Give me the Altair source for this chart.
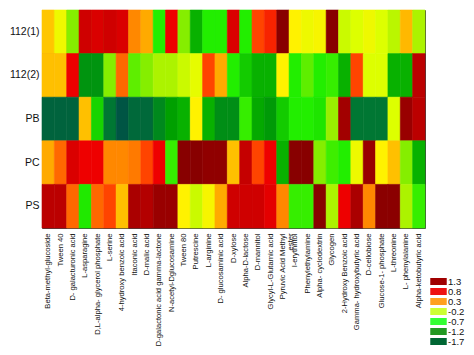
import altair as alt
import pandas as pd

rows = ["112(1)", "112(2)", "PB", "PC", "PS"]

substrates = [
    "Beta-methyl-glucoside", "Tween 40", "D- galacturonic acid", "L-asparagine",
    "D,L-alpha- glycerol phosphate", "L-serine", "4-hydroxy benzoic acid", "Itaconic acid",
    "D-malic acid", "D-galactonic acid gamma-lactone", "N-acetyl-Dglucosamine", "Tween 80",
    "Putrescine", "L-arginine", "D- glucosaminic acid", "D-xylose", "Alpha-D-lactose",
    "D-mannitol", "Glycyl-L-Glutamic acid", "Pyruvic Acid Methyl|ester", "I-erythritol",
    "Phenylethylamine", "Alpha- cyclodextrin", "Glycogen", "2-Hydroxy Benzoic acid",
    "Gamma- hydroxybutyric acid", "D-cellobiose", "Glucose-1- phosphate", "L-threonine",
    "L- phenylalanine", "Alpha-ketobutyric acid",
]

r_112_1 = [0.22, -0.1, -0.5, 1.0, 0.95, 1.0, 0.95, 0.45, 0.33, -0.75, 0.85, -0.5, -1.1, -0.75, -0.75, 0.95,
           -0.75, 0.6, 0.72, 1.4, 0.0, -0.1, -0.05, 1.4, -0.27, -0.2, -0.1, -0.2, -0.33, 0.28, -0.38]
r_112_2 = [0.25, 0.25, 0.85, -1.3, -1.3, -0.5, 0.52, -0.6, -0.5, -0.38, -0.38, -0.27, -0.15, 0.6, 0.33, -0.75,
           -0.95, -1.1, -1.1, 0.0, -0.75, -0.6, -0.75, -0.7, -1.1, 0.6, -0.2, -0.2, -1.1, -1.1, 1.1]
r_pb = [-1.7, -1.7, -1.7, 0.25, -0.9, -1.55, -1.8, -1.65, -1.65, -1.4, -1.2, -1.1, 0.0, -1.1, -1.35, -1.35,
        -0.7, -1.15, -1.25, -0.95, -0.75, -0.75, -0.8, -0.45, 1.25, -1.55, -1.55, -1.55, -0.2, 1.3, 1.1]
r_pc = [0.33, 0.52, 0.95, 0.85, 0.85, 0.45, 0.45, 0.48, 0.6, 0.85, -0.7, 1.4, 1.4, 1.35, 1.35, 0.25,
        1.05, 0.6, 0.85, -1.1, 1.4, 1.4, -0.5, -0.68, -0.75, -0.1, 1.3, 0.0, 0.25, -0.5, -1.1]
r_ps = [1.1, 1.1, 0.52, -0.78, 0.52, 0.6, 0.25, 1.2, 1.15, 1.3, 1.3, 0.0, -0.27, -0.05, 0.33, 1.0,
        1.0, 1.0, 0.9, 0.45, -0.7, -0.7, 1.4, -0.38, 0.85, 1.2, 0.45, 1.38, 1.38, -0.38, -0.7]

legend_labels = ["1.3", "0.8", "0.3", "-0.2", "-0.7", "-1.2", "-1.7"]
legend_colors = ["#A00000", "#EE1111", "#FFA020", "#CCFF33", "#33FF33", "#229922", "#006633"]

heat_domain = [-1.8, -1.55, -1.2, -0.75, -0.45, -0.2, 0.0, 0.25, 0.45, 0.6, 0.85, 1.1, 1.4]
heat_range = ["#005544", "#007733", "#00A000", "#22EE00", "#99EE00", "#DDFF00", "#FFF200",
              "#FFC000", "#FF8800", "#FF4400", "#EE0000", "#BB0000", "#880000"]

series = [r_112_1, r_112_2, r_pb, r_pc, r_ps]
records = []
for rname, vals in zip(rows, series):
    for s, v in zip(substrates, vals):
        records.append({"row": rname, "substrate": s, "value": v})
df = pd.DataFrame(records)

leg_df = pd.DataFrame({"row": [rows[0]] * 7, "substrate": substrates[:7], "key": legend_labels})

x_enc = alt.X("substrate:N", sort=substrates,
              axis=alt.Axis(title=None, labelAngle=-90, labelFontSize=7.6, labelAlign="right",
                            labelBaseline="middle", tickSize=0, domain=False, labelPadding=5,
                            labelExpr="split(datum.label, '|')", labelLineHeight=8))
y_enc = alt.Y("row:N", sort=rows,
              axis=alt.Axis(title=None, labelFontSize=10.5, tickSize=0, domain=False, labelPadding=3))

heat_scale = alt.Scale(domain=heat_domain, range=heat_range, interpolate="rgb", nice=False)

leg = alt.Chart(leg_df).mark_rect().encode(
    x=x_enc, y=y_enc,
    color=alt.Color("key:N", sort=legend_labels,
                    scale=alt.Scale(domain=legend_labels, range=legend_colors),
                    legend=alt.Legend(title=None, orient="none", legendX=391, legendY=266,
                                      symbolType="M-1.6,-0.68L1.6,-0.68L1.6,0.68L-1.6,0.68Z",
                                      symbolSize=106, symbolStrokeWidth=0, labelFontSize=9.5,
                                      labelOffset=4, rowPadding=-1, padding=0, symbolOpacity=1)),
)

heat = alt.Chart(df).mark_rect(strokeWidth=0.6).encode(
    x=x_enc, y=y_enc,
    color=alt.Color("value:Q", scale=heat_scale, legend=None),
    stroke=alt.Stroke("value:Q", scale=alt.Scale(domain=heat_domain, range=heat_range,
                                                  interpolate="rgb", nice=False), legend=None),
)

chart = (
    alt.layer(leg, heat)
    .resolve_scale(color="independent")
    .properties(width=383, height=218,
                autosize=alt.AutoSizeParams(type="none"),
                padding={"left": 34, "top": 2, "right": 41, "bottom": 119})
    .configure_view(stroke="#444", strokeWidth=1)
    .configure_axis(labelFont="Liberation Sans", labelColor="#111")
    .configure_legend(labelFont="Liberation Sans", labelColor="#111")
)

chart.save("out.html", embed_options={"renderer": "svg", "actions": False})
